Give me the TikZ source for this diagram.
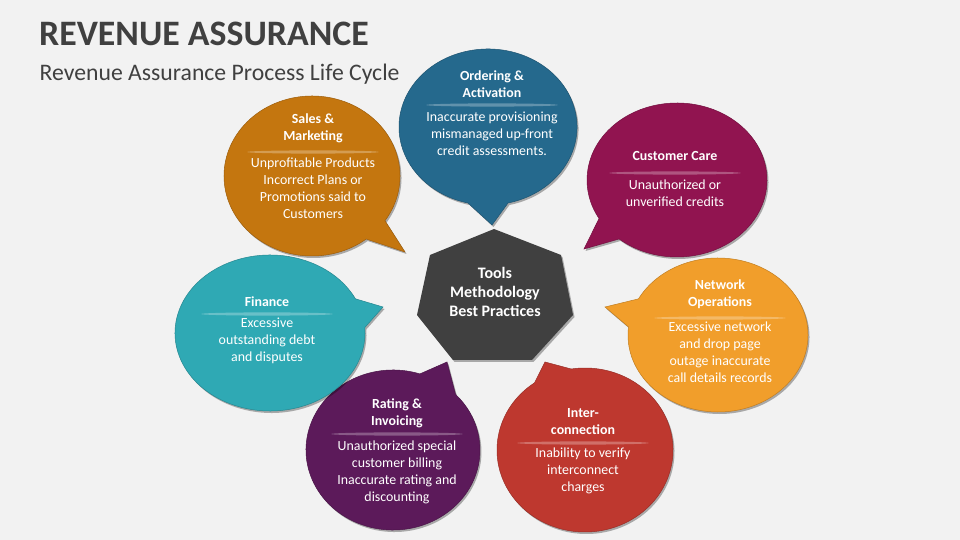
\documentclass[tikz,border=0pt]{standalone}
\usepackage{fontspec}
\setmainfont{Carlito}
\usetikzlibrary{shadows}
\definecolor{bg}{HTML}{F2F2F2}
\definecolor{titlegray}{HTML}{404040}
\definecolor{cOrder}{HTML}{25698D}
\definecolor{cCust}{HTML}{911450}
\definecolor{cNet}{HTML}{F19E2B}
\definecolor{cInter}{HTML}{BE382F}
\definecolor{cRate}{HTML}{5C1A5A}
\definecolor{cFin}{HTML}{2FA9B4}
\definecolor{cSales}{HTML}{C4760F}
\definecolor{cHept}{HTML}{404040}
\tikzset{
  bubtext/.style={text=white, align=center, font=\fontsize{13.9}{17}\selectfont, inner sep=0pt},
  bubhead/.style={bubtext, font=\bfseries\fontsize{13.9}{17}\selectfont},
  shad/.style={drop shadow={shadow xshift=1.5pt, shadow yshift=-2pt, opacity=0.3, fill=black}},
}
% cx cy rx ry t w tipx tipy color
\newcommand\bubbleshape[9]{%
  \path[fill=#9, draw=#9!80!black, line width=0.5pt, shad]
    (#1,#2) ++({#5+#6}:#3pt and #4pt)
    arc[start angle={#5+#6}, end angle={#5-#6+360}, x radius=#3pt, y radius=#4pt]
    -- (#7,#8) -- cycle;
}
\newcommand\divline[2]{%
  \fill[white, opacity=0.28] (#1,#2) ellipse[x radius=66pt, y radius=1.6pt];
}
\begin{document}
\begin{tikzpicture}[x=1pt,y=1pt]
\fill[bg] (0,0) rectangle (960,540);
\useasboundingbox (0,0) rectangle (960,540);

\node[anchor=base west, inner sep=0pt, text=titlegray, font=\bfseries\fontsize{35.8}{40}\selectfont] (title) at (39,494) {REVENUE ASSURANCE};
\node[anchor=base west, inner sep=0pt, text=titlegray, font=\fontsize{23.7}{27}\selectfont] (subtitle) at (39.5,459) {Revenue Assurance Process Life Cycle};

% bubbles
\bubbleshape{488}{413}{89}{78}{270}{13}{492}{315}{cOrder}
\bubbleshape{677}{360}{90}{77}{220}{10}{584}{291}{cCust}
\bubbleshape{718}{205}{90}{77}{163}{11}{605}{233}{cNet}
\bubbleshape{585}{90}{88}{82}{112}{13}{545}{178}{cInter}
\bubbleshape{393}{90}{87}{80}{58}{14}{447}{178}{cRate}
\bubbleshape{270}{207}{95}{78}{15}{11}{383}{233}{cFin}
\bubbleshape{312}{364}{88}{80}{-43}{9}{405}{288}{cSales}

% heptagon
\path[fill=cHept, shad] (494,311) coordinate (h1) -- (561,285) coordinate (h2) -- (573,225) coordinate (h3)
  -- (532,180) coordinate (h4) -- (453,180) coordinate (h5) -- (417,225) coordinate (h6)
  -- (430,285) coordinate (h7) -- cycle;
\node[bubhead, font=\bfseries\fontsize{16}{19}\selectfont] (center) at (495,248) {Tools\\Methodology\\Best Practices};

% Ordering
\node[bubhead] (ordH) at (492,455.5) {Ordering \&\\Activation};
\divline{492}{435}
\node[bubtext] (ordB) at (492,406) {Inaccurate provisioning\\mismanaged up-front\\credit assessments.};

% Customer care
\node[bubhead] (cusH) at (675,384) {Customer Care};
\divline{675}{367}
\node[bubtext] (cusB) at (675,346.5) {Unauthorized or\\unverified credits};

% Network
\node[bubhead] (netH) at (720,245.5) {Network\\Operations};
\divline{720}{222}
\node[bubtext] (netB) at (720,187.5) {Excessive network\\and drop page\\outage inaccurate\\call details records};

% Interconnection
\node[bubhead] (intH) at (583,118.5) {Inter-\\connection};
\divline{583}{97}
\node[bubtext] (intB) at (583,69) {Inability to verify\\interconnect\\charges};

% Rating
\node[bubhead] (ratH) at (397,126.5) {Rating \&\\Invoicing};
\divline{397}{106}
\node[bubtext] (ratB) at (397,67.5) {Unauthorized special\\customer billing\\Inaccurate rating and\\discounting};

% Finance
\node[bubhead] (finH) at (267,238) {Finance};
\divline{267}{226}
\node[bubtext] (finB) at (267,199) {Excessive\\outstanding debt\\and disputes};

% Sales
\node[bubhead] (salH) at (313,411.5) {Sales \&\\Marketing};
\divline{313}{388}
\node[bubtext] (salB) at (313,351.5) {Unprofitable Products\\Incorrect Plans or\\Promotions said to\\Customers};
\end{tikzpicture}
\end{document}
